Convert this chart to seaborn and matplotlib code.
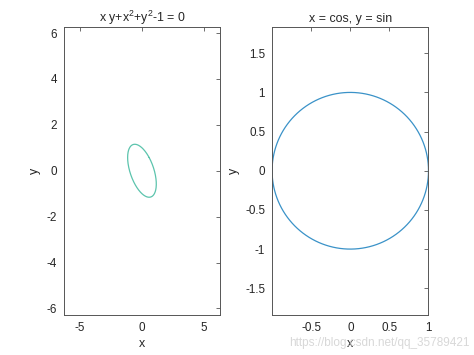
import numpy as np
import pandas as pd
import matplotlib.pyplot as plt
import seaborn as sns

# ==========================================
# Data
# ==========================================
# curve 1: x*y + x^2 + y^2 - 1 = 0  (coefficients of x^2, xy, y^2, const)
IMPLICIT_COEFS = [1.0, 1.0, 1.0, -1.0]
# curve 2: x = cos(t), y = sin(t)
PARAM_T = np.linspace(0, 2 * np.pi, 400)

LEFT_TITLE = "x y+x$^2$+y$^2$-1 = 0"
RIGHT_TITLE = "x = cos, y = sin"

LEFT_XTICKS = [-5, 0, 5]
LEFT_YTICKS = [-6, -4, -2, 0, 2, 4, 6]
RIGHT_XTICKS = [-0.5, 0, 0.5, 1]
RIGHT_XTICKLABELS = ["-0.5", "0", "0.5", "1"]
RIGHT_YTICKS = [-1.5, -1, -0.5, 0, 0.5, 1, 1.5]
RIGHT_YTICKLABELS = ["-1.5", "-1", "-0.5", "0", "0.5", "1", "1.5"]

LEFT_LIM = 2 * np.pi
RIGHT_XLIM = (-1, 1)
RIGHT_YLIM = (-1.84, 1.84)

WATERMARK = "https://blog.csdn.net/qq_35789421"


def implicit_ellipse(coefs, t):
    """Solve a*x^2 + b*xy + c*y^2 + d = 0 (a == c) by rotating 45 deg."""
    a, b, c, d = coefs
    # u = (x+y)/sqrt2, v = (x-y)/sqrt2  ->  (a + b/2) u^2 + (a - b/2) v^2 = -d
    ru = np.sqrt(-d / (a + b / 2))
    rv = np.sqrt(-d / (a - b / 2))
    u = ru * np.cos(t)
    v = rv * np.sin(t)
    return (u + v) / np.sqrt(2), (u - v) / np.sqrt(2)


ex, ey = implicit_ellipse(IMPLICIT_COEFS, PARAM_T)
df_left = pd.DataFrame({"x": ex, "y": ey, "order": np.arange(len(ex))})
df_right = pd.DataFrame({"x": np.cos(PARAM_T), "y": np.sin(PARAM_T),
                         "order": np.arange(len(PARAM_T))})

# ==========================================
# Style
# ==========================================
sns.set_theme(style="white")
plt.rcParams["font.family"] = ["Liberation Sans", "DejaVu Sans"]
plt.rcParams["mathtext.fontset"] = "custom"
plt.rcParams["mathtext.rm"] = "Liberation Sans"
plt.rcParams["mathtext.it"] = "Liberation Sans"
AXIS_COLOR = "#555555"

fig = plt.figure(figsize=(4.74, 3.55), dpi=100)
ax1 = fig.add_axes([0.135, 0.113, 0.329, 0.812])
ax2 = fig.add_axes([0.574, 0.113, 0.330, 0.812])

sns.lineplot(data=df_left, x="x", y="y", sort=False, estimator=None,
             color="#5cc4ad", linewidth=0.9, ax=ax1)
sns.lineplot(data=df_right, x="x", y="y", sort=False, estimator=None,
             color="#3a92c8", linewidth=0.9, ax=ax2)


def style_axes(ax, title):
    for sp in ax.spines.values():
        sp.set_color(AXIS_COLOR)
        sp.set_linewidth(0.7)
    ax.tick_params(direction="in", length=3, width=0.6, color=AXIS_COLOR,
                   top=True, right=True, labelsize=8.4, labelcolor="#262626",
                   pad=5)
    ax.set_title(title, fontsize=8.9, color="#262626", pad=3)
    ax.set_xlabel("x", fontsize=8.9, color="#262626", labelpad=3)
    ax.set_ylabel("y", fontsize=8.9, color="#262626", labelpad=4)


ax1.set_xlim(-LEFT_LIM, LEFT_LIM)
ax1.set_ylim(-LEFT_LIM, LEFT_LIM)
ax1.set_xticks(LEFT_XTICKS)
ax1.set_yticks(LEFT_YTICKS)
ax1.set_xticklabels([str(v) for v in LEFT_XTICKS])
ax1.set_yticklabels([str(v) for v in LEFT_YTICKS])
style_axes(ax1, LEFT_TITLE)

ax2.set_xlim(*RIGHT_XLIM)
ax2.set_ylim(*RIGHT_YLIM)
ax2.set_xticks(RIGHT_XTICKS)
ax2.set_xticklabels(RIGHT_XTICKLABELS)
ax2.set_yticks(RIGHT_YTICKS)
ax2.set_yticklabels(RIGHT_YTICKLABELS)
style_axes(ax2, RIGHT_TITLE)

fig.text(0.99, 0.035, WATERMARK, ha="right", va="center", fontsize=8.5,
         color="#d8d8d8")

fig.savefig("out.png", dpi=100)
plt.close(fig)
